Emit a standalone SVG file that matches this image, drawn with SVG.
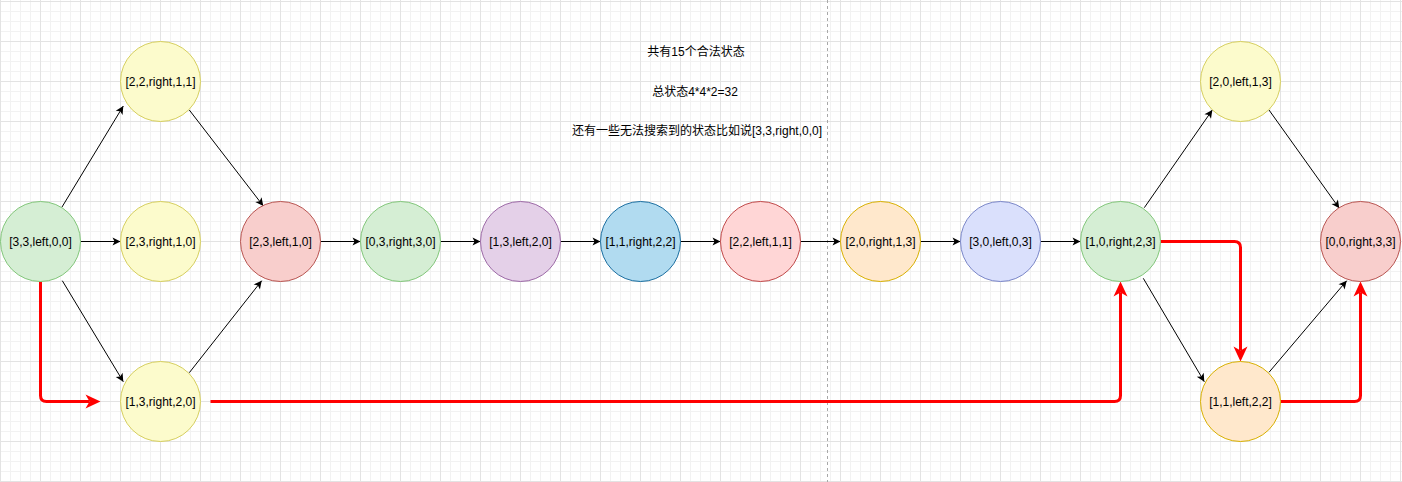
<svg xmlns="http://www.w3.org/2000/svg" width="1402" height="482" viewBox="0 0 1402 482">
<style>
.n{stroke-width:1}
.t{font-family:"Liberation Sans","Noto Sans CJK SC",sans-serif;font-size:12px;fill:#000;text-anchor:middle}
.green{fill:#d5eed4;stroke:#82c67a}
.yellow{fill:#fcfbcc;stroke:#d6cf5e}
.red{fill:#f8cecc;stroke:#b85450}
.lred{fill:#ffd6d6;stroke:#c04848}
.purple{fill:#e4d0e8;stroke:#9c69a6}
.blue{fill:#b1dbf0;stroke:#1a6ea0}
.orange{fill:#ffe8cc;stroke:#d8b000}
.lav{fill:#dae0fc;stroke:#7a86c8}
.e{fill:none;stroke:#000;stroke-width:1}
.r{fill:none;stroke:#ff0000;stroke-width:3}
</style>
<defs>
<pattern id="grid" patternUnits="userSpaceOnUse" x="0" y="1" width="40" height="40">
<path d="M10.5,0V40M20.5,0V40M30.5,0V40M0,10.5H40M0,20.5H40M0,30.5H40" stroke="#f2f2f2" stroke-width="1" fill="none"/>
<path d="M0.5,0V40M0,0.5H40" stroke="#e3e3e3" stroke-width="1" fill="none"/>
</pattern>
<marker id="ab" markerUnits="userSpaceOnUse" markerWidth="9" markerHeight="9" refX="8" refY="4" orient="auto" overflow="visible">
<path d="M8,4L0,0L2,4L0,8Z" fill="#000"/>
</marker>
<marker id="ar" markerUnits="userSpaceOnUse" markerWidth="16" markerHeight="15" refX="4" refY="7" orient="auto" overflow="visible">
<path d="M15,7L0,0L4,7L0,14Z" fill="#ff0000"/>
</marker>
</defs>
<rect width="1402" height="482" fill="#fff"/>
<rect width="1402" height="482" fill="url(#grid)"/>
<line x1="827.5" y1="0" x2="827.5" y2="482" stroke="#a8a8a8" stroke-width="1" stroke-dasharray="3 3"/>

<g id="notes" class="t">
<text x="696" y="56">共有15个合法状态</text>
<text x="695" y="96">总状态4*4*2=32</text>
<text x="697" y="135">还有一些无法搜索到的状态比如说[3,3,right,0,0]</text>
</g>

<g id="edges">
<path class="e" marker-end="url(#ab)" d="M80.5,241.5H120.5"/>
<path class="e" marker-end="url(#ab)" d="M320.5,241.5H360.5"/>
<path class="e" marker-end="url(#ab)" d="M440.5,241.5H480.5"/>
<path class="e" marker-end="url(#ab)" d="M560.5,241.5H600.5"/>
<path class="e" marker-end="url(#ab)" d="M680.5,241.5H720.5"/>
<path class="e" marker-end="url(#ab)" d="M800.5,241.5H840.5"/>
<path class="e" marker-end="url(#ab)" d="M920.5,241.5H960.5"/>
<path class="e" marker-end="url(#ab)" d="M1040.5,241.5H1080.5"/>
<path class="e" marker-end="url(#ab)" d="M62,207L123.3,106"/>
<path class="e" marker-end="url(#ab)" d="M189.3,110L263.3,206"/>
<path class="e" marker-end="url(#ab)" d="M62.3,280.7L123.3,381.7"/>
<path class="e" marker-end="url(#ab)" d="M189.3,372.7L261.7,280.7"/>
<path class="e" marker-end="url(#ab)" d="M1144.3,207.7L1212.3,110"/>
<path class="e" marker-end="url(#ab)" d="M1269,110L1339.3,208.3"/>
<path class="e" marker-end="url(#ab)" d="M1143.3,278.3L1204.3,381.7"/>
<path class="e" marker-end="url(#ab)" d="M1269,372.3L1346.7,280.7"/>
<path class="r" marker-end="url(#ar)" d="M40.5,281.5V395.5Q40.5,401.5 46.5,401.5H89.5"/>
<path class="r" marker-end="url(#ar)" d="M210.5,401.5H1114.5Q1120.5,401.5 1120.5,395.5V292.5"/>
<path class="r" marker-end="url(#ar)" d="M1160.5,241.5H1234.5Q1240.5,241.5 1240.5,247.5V350.5"/>
<path class="r" marker-end="url(#ar)" d="M1280.5,401.5H1354.5Q1360.5,401.5 1360.5,395.5V292.5"/>
</g>

<g id="n0"><circle class="n green" cx="40.5" cy="241.5" r="40"/><text class="t" x="40.5" y="245.5">[3,3,left,0,0]</text></g>
<g id="n1"><circle class="n yellow" cx="160.5" cy="81.5" r="40"/><text class="t" x="160.5" y="85.5">[2,2,right,1,1]</text></g>
<g id="n2"><circle class="n yellow" cx="160.5" cy="241.5" r="40"/><text class="t" x="160.5" y="245.5">[2,3,right,1,0]</text></g>
<g id="n3"><circle class="n yellow" cx="160.5" cy="401.5" r="40"/><text class="t" x="160.5" y="405.5">[1,3,right,2,0]</text></g>
<g id="n4"><circle class="n red" cx="280.5" cy="241.5" r="40"/><text class="t" x="280.5" y="245.5">[2,3,left,1,0]</text></g>
<g id="n5"><circle class="n green" cx="400.5" cy="241.5" r="40"/><text class="t" x="400.5" y="245.5">[0,3,right,3,0]</text></g>
<g id="n6"><circle class="n purple" cx="520.5" cy="241.5" r="40"/><text class="t" x="520.5" y="245.5">[1,3,left,2,0]</text></g>
<g id="n7"><circle class="n blue" cx="640.5" cy="241.5" r="40"/><text class="t" x="640.5" y="245.5">[1,1,right,2,2]</text></g>
<g id="n8"><circle class="n lred" cx="760.5" cy="241.5" r="40"/><text class="t" x="760.5" y="245.5">[2,2,left,1,1]</text></g>
<g id="n9"><circle class="n orange" cx="880.5" cy="241.5" r="40"/><text class="t" x="880.5" y="245.5">[2,0,right,1,3]</text></g>
<g id="n10"><circle class="n lav" cx="1000.5" cy="241.5" r="40"/><text class="t" x="1000.5" y="245.5">[3,0,left,0,3]</text></g>
<g id="n11"><circle class="n green" cx="1120.5" cy="241.5" r="40"/><text class="t" x="1120.5" y="245.5">[1,0,right,2,3]</text></g>
<g id="n12"><circle class="n yellow" cx="1240.5" cy="81.5" r="40"/><text class="t" x="1240.5" y="85.5">[2,0,left,1,3]</text></g>
<g id="n13"><circle class="n orange" cx="1240.5" cy="401.5" r="40"/><text class="t" x="1240.5" y="405.5">[1,1,left,2,2]</text></g>
<g id="n14"><circle class="n red" cx="1360.5" cy="241.5" r="40"/><text class="t" x="1360.5" y="245.5">[0,0,right,3,3]</text></g>
</svg>
